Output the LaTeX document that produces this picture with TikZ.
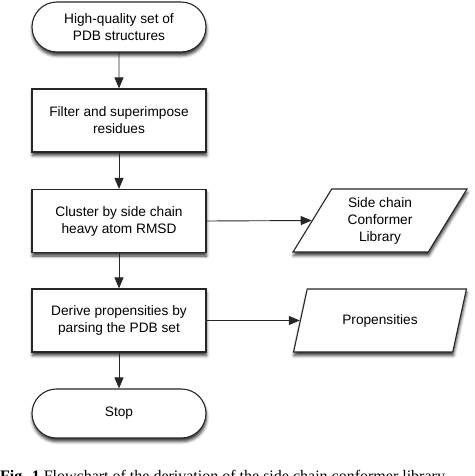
\documentclass[tikz,border=0pt]{standalone}
\usepackage{fontspec}
\setmainfont{Liberation Sans}
\newfontfamily\capfont{Liberation Serif}
\usetikzlibrary{shapes.misc, shapes.geometric, arrows.meta, shadows.blur}

\tikzset{
    base/.style={draw=black!85, line width=1.1pt, fill=white, align=center,
        font=\fontsize{13.7}{17}\selectfont, inner sep=0pt,
        blur shadow={shadow xshift=0.5pt, shadow yshift=-3.5pt, shadow blur radius=3pt, shadow opacity=80}},
    terminal/.style={base, rounded rectangle, minimum width=174pt, minimum height=50pt},
    process/.style={base, rectangle, minimum width=174pt, minimum height=63pt},
    datafile/.style={base, trapezium, trapezium left angle=61, trapezium right angle=119,
        trapezium stretches=true, minimum width=174pt, minimum height=63pt},
    flow/.style={black!85, line width=0.9pt, -{Triangle[length=11pt,width=9pt]}}
}

\begin{document}
\begin{tikzpicture}[x=1pt,y=-1pt]
        % Define dimensions
        \def\colx{119}
        \def\datax{380}
        \useasboundingbox (0,0) rectangle (474,476);
        % Draw the main column
        \node[terminal] (source) at (\colx,27) {High-quality set of\\PDB structures};
        \node[process] (filter) at (\colx,120.5) {Filter and superimpose\\residues};
        \node[process] (cluster) at (\colx,221) {Cluster by side chain\\heavy atom RMSD};
        \node[process] (derive) at (\colx,320.5) {Derive propensities by\\parsing the PDB set};
        \node[terminal, minimum height=49pt] (stop) at (\colx,413.5) {Stop};
        % Draw the outputs on the right
        \node[datafile] (library) at (\datax,220.5) {Side chain\\Conformer\\Library};
        \node[datafile] (propens) at (\datax,320.5) {Propensities};
        % Draw the connectors
        \draw[flow] (source) -- (filter);
        \draw[flow] (filter) -- (cluster);
        \draw[flow] (cluster) -- (derive);
        \draw[flow] (derive) -- (stop);
        \draw[flow] (cluster.east) -- (library.left side);
        \draw[flow] (derive.east) -- (propens.left side);
        % Caption, cut by the page edge as in the original
        \node[anchor=base west, inner sep=0pt, font=\capfont\fontsize{16}{18}\selectfont] (caption) at (0,481.5)
            {\textbf{Fig. 1} Flowchart of the derivation of the side chain conformer library};
    \end{tikzpicture}
\end{document}
